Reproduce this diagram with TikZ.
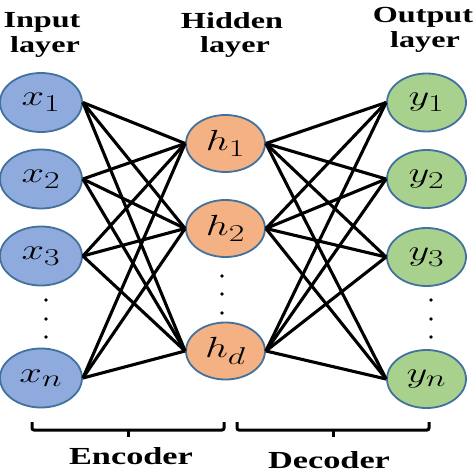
\documentclass[tikz,border=0pt]{standalone}
\usepackage{fontspec}
\setmainfont{Liberation Serif}
\usepackage{graphicx}
\usetikzlibrary{shapes.geometric}
\definecolor{inblue}{HTML}{8FAADC}
\definecolor{hidor}{HTML}{F4B183}
\definecolor{outgr}{HTML}{A9D18E}
\definecolor{rim}{HTML}{41719C}
\newcommand\sx[1]{\scalebox{1.4}[1]{#1}}
\newcommand\smx[1]{\scalebox{1.63}[1.17]{$#1$}}
\begin{document}
\begin{tikzpicture}[x=1pt,y=-1pt,
  neuron/.style={ellipse, draw=rim, line width=1.8pt, inner sep=0pt,
    minimum width=80pt, minimum height=58pt, font=\fontsize{24.88}{27}\selectfont},
  innode/.style={neuron, fill=inblue, minimum width=82pt, minimum height=59pt},
  hidnode/.style={neuron, fill=hidor, minimum width=79pt, minimum height=57pt},
  outnode/.style={neuron, fill=outgr, minimum width=79pt, minimum height=58pt},
  conn/.style={line width=3.1pt, black},
  brk/.style={line width=3pt, black, rounded corners=2pt},
  lab/.style={font=\bfseries\fontsize{23}{25}\selectfont, inner sep=0pt, anchor=base},
  blab/.style={font=\bfseries\fontsize{24.5}{26}\selectfont, inner sep=0pt, anchor=base},
  vdot/.style={fill=black}]
\useasboundingbox (0,0) rectangle (474,474);
\fill[white] (0,0) rectangle (474,474);

% labels
\node[lab] (inA) at (42,27) {\sx{Input}};
\node[lab] (inB) at (45,52) {\sx{layer}};
\node[lab] (hiA) at (232,28) {\sx{Hidden}};
\node[lab] (hiB) at (235,52) {\sx{layer}};
\node[lab] (ouA) at (423,22) {\sx{Output}};
\node[lab] (ouB) at (425,47) {\sx{layer}};

% neurons
\node[innode] (x1) at (41,102.5) {\smx{x_1}};
\node[innode] (x2) at (41,179) {\smx{x_2}};
\node[innode] (x3) at (41,256) {\smx{x_3}};
\node[innode] (xn) at (41,378) {\smx{x_n}};
\node[hidnode] (h1) at (225.5,143.5) {\smx{h_1}};
\node[hidnode] (h2) at (225.5,228.5) {\smx{h_2}};
\node[hidnode] (hd) at (225.5,351) {\smx{h_d}};
\node[outnode] (y1) at (426.5,102.5) {\smx{y_1}};
\node[outnode] (y2) at (426.5,179) {\smx{y_2}};
\node[outnode] (y3) at (426.5,257) {\smx{y_3}};
\node[outnode] (yn) at (426.5,379) {\smx{y_n}};

% connections
\foreach \a in {x1,x2,x3,xn}
  \foreach \b in {h1,h2,hd}
    \draw[conn] (\a.east) -- (\b.west);
\foreach \a in {h1,h2,hd}
  \foreach \b in {y1,y2,y3,yn}
    \draw[conn] (\a.east) -- (\b.west);

% vertical dots
\foreach \yy in {300,319,337} \fill[vdot] (46,\yy) circle (1.8pt);
\foreach \yy in {276,294,313} \fill[vdot] (222,\yy) circle (1.8pt);
\foreach \yy in {300,319,337} \fill[vdot] (431,\yy) circle (1.8pt);

% brackets
\draw[brk] (32,422) -- (32,430) -- (224,430) -- (224,422);
\draw[brk] (128,430) -- (128,437);
\draw[brk] (237,422) -- (237,430) -- (429,430) -- (429,422);
\draw[brk] (333,430) -- (333,437);

\node[blab] (enc) at (131,464) {\sx{Encoder}};
\node[blab] (dec) at (329,468) {\sx{Decoder}};
\end{tikzpicture}
\end{document}
